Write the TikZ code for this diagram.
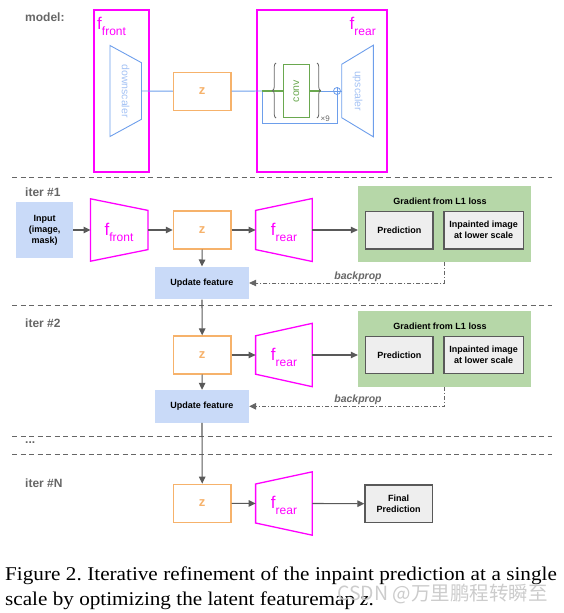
\documentclass[tikz,border=0pt]{standalone}
\usepackage{fontspec}
\setmainfont{Liberation Sans}
\newfontfamily\capfont{Liberation Serif}
\newfontfamily\cjkfont{Noto Sans CJK SC}
\usetikzlibrary{arrows.meta,decorations.pathreplacing}

\definecolor{magentaf}{HTML}{FF00FF}
\definecolor{netblue}{HTML}{6D9EEB}
\definecolor{lightblue}{HTML}{A4C2F4}
\definecolor{zorange}{HTML}{F6B26B}
\definecolor{convgreen}{HTML}{6AA84F}
\definecolor{gradgreen}{HTML}{B6D7A8}
\definecolor{boxblue}{HTML}{C9DAF8}
\definecolor{boxgray}{HTML}{EEEEEE}
\definecolor{darkgray}{HTML}{595959}
\definecolor{labelgray}{HTML}{666666}

% f with a subscript, as in the figure
\newcommand{\fsub}[1]{{\fontsize{17}{17}\selectfont f}\raisebox{-6pt}{\fontsize{12}{12}\selectfont #1}}
% trapezium: [style]{name}{left x}{right x}{centre y}{left half height}{right half height}
\newcommand{\trapez}[7][]{%
  \draw[#1] (#3,#5-#6) -- (#4,#5-#7) -- (#4,#5+#7) -- (#3,#5+#6) -- cycle;
  \coordinate (#2-w) at (#3,#5);
  \coordinate (#2-e) at (#4,#5);}

\tikzset{
  secline/.style={draw=labelgray, line width=0.9pt, dash pattern=on 5pt off 3.5pt},
  iterlbl/.style={anchor=west, inner sep=0pt, text=labelgray, font=\fontsize{12}{14}\selectfont\bfseries},
  modelbox/.style={draw=magentaf, line width=2.4pt, minimum width=55pt, minimum height=162pt},
  ftrap/.style={draw=magentaf, line width=1.3pt},
  nettrap/.style={draw=netblue, line width=0.9pt},
  netline/.style={draw=netblue, line width=0.9pt},
  convline/.style={draw=convgreen, line width=1.1pt},
  flbl/.style={text=magentaf, inner sep=0pt},
  zbox/.style={draw=zorange, line width=1.2pt, minimum width=57.7pt, minimum height=38pt, text=zorange, font=\fontsize{13}{15}\selectfont\bfseries},
  feedbox/.style={fill=boxblue, inner sep=0pt, align=center, font=\fontsize{9}{11}\selectfont\bfseries},
  predbox/.style={draw=darkgray, line width=1.2pt, fill=boxgray, minimum height=37.5pt, inner sep=0pt, align=center, font=\fontsize{9}{11}\selectfont\bfseries},
  gradbox/.style={fill=gradgreen, minimum width=172.7pt, minimum height=75.7pt, inner sep=0pt},
  gradlbl/.style={inner sep=0pt, font=\fontsize{9}{11}\selectfont\bfseries},
  arr/.style={draw=darkgray, line width=1.1pt, -{Triangle[length=7pt,width=6.5pt]}},
  backarr/.style={draw=labelgray, line width=0.9pt, dash pattern=on 4pt off 2pt on 1pt off 2pt, -{Triangle[length=7pt,width=6.5pt]}},
  bplbl/.style={inner sep=0pt, text=labelgray, font=\fontsize{10.5}{12}\selectfont\bfseries\itshape},
  captext/.style={anchor=base west, inner sep=0pt, font=\capfont\fontsize{19.5}{23}\selectfont},
}

\begin{document}
\begin{tikzpicture}[x=1pt,y=-1pt]
\useasboundingbox (0,0) rectangle (563,613);

% model
\node[iterlbl] (modellbl) at (25,17) {model:};
\node[modelbox] (mfront) at (121.5,91) {};
\node[modelbox, minimum width=130pt] (mrear) at (322,91) {};
\node[flbl, anchor=north west] (mfrontlbl) at (97,16.5) {\fsub{front}};
\node[flbl, anchor=north east] (mrearlbl) at (376,16.5) {\fsub{rear}};
\trapez[nettrap]{dsc}{110}{141.5}{91}{45.5}{28.3}
\node[rotate=-90, text=lightblue, font=\fontsize{10.5}{12}\selectfont] (dsclbl) at (125.7,91) {downscaler};
\node[zbox] (zm) at (202.2,91.2) {z};
\trapez[nettrap]{usc}{341.7}{373.3}{91}{26.7}{45.8}
\node[rotate=-90, text=lightblue, font=\fontsize{10.5}{12}\selectfont] (usclbl) at (357.5,91) {upscaler};
\node[draw=convgreen, line width=1pt, minimum width=26pt, minimum height=53.4pt] (conv) at (296.4,91) {};
\node[rotate=90, text=convgreen, font=\fontsize{10.5}{12}\selectfont] (convlbl) at (conv) {conv};
\node[draw=netblue, circle, inner sep=0pt, minimum size=7pt, line width=0.8pt] (oplus) at (337,91) {};
\draw[netblue, line width=0.8pt] (oplus.north) -- (oplus.south) (oplus.west) -- (oplus.east);
\coordinate (skipa) at (262,91);
\coordinate (skipb) at (337,123);
\coordinate (bracer) at (320.5,91);
\draw[netline] (dsc-e) -- (zm.west);
\draw[netline] (zm.east) -- (skipa);
\draw[netline] (skipa) |- (skipb) -- (oplus.south);
\draw[convline] (skipa) -- (conv.west);
\draw[convline] (conv.east) -- (bracer);
\draw[netline] (bracer) -- (oplus.west);
\draw[netline] (oplus.east) -- (usc-w);
\draw[labelgray, line width=0.8pt, decorate, decoration={brace, amplitude=3.5pt}] (276,118) -- (276,63);
\draw[labelgray, line width=0.8pt, decorate, decoration={brace, amplitude=3.5pt}] (317,63) -- (317,118);
\node[anchor=west, inner sep=0pt, text=labelgray, font=\fontsize{8}{9}\selectfont] (reps) at (320.5,119) {×9};

% separators
\draw[secline] (12,177) -- (552,177);
\draw[secline] (12,305) -- (552,305);
\draw[secline] (12,436) -- (552,436);
\draw[secline] (12,454) -- (552,454);

% iter 1
\node[iterlbl] (it1) at (25,192) {iter \#1};
\node[feedbox, minimum width=57pt, minimum height=55.5pt] (inp1) at (44.6,230) {Input\\(image,\\mask)};
\trapez[ftrap]{ff1}{90.5}{148}{230}{31.2}{19.6}
\node[flbl] (ff1lbl) at (119,232) {\fsub{front}};
\node[zbox] (z1) at (202.2,230) {z};
\trapez[ftrap]{fr1}{255.6}{312.3}{230}{19.6}{31.5}
\node[flbl] (fr1lbl) at (284,232) {\fsub{rear}};
\node[gradbox] (grad1) at (444.4,223.9) {};
\node[gradlbl] (gt1) at (440,201) {Gradient from L1 loss};
\node[predbox, minimum width=67.3pt] (pred1) at (399.3,230.2) {Prediction};
\node[predbox, minimum width=79.5pt] (low1) at (483.7,230.2) {Inpainted image\\at lower scale};
\node[feedbox, minimum width=93.8pt, minimum height=32.6pt] (upd1) at (202,283) {Update feature};
\draw[arr] (inp1.east) -- (ff1-w);
\draw[arr] (ff1-e) -- (z1.west);
\draw[arr] (z1.east) -- (fr1-w);
\draw[arr] (fr1-e) -- (fr1-e -| grad1.west);
\draw[arr] (z1.south) -- (upd1.north);
\draw[backarr] (grad1.south) |- (upd1.east);
\node[bplbl] (bp1) at (358,277) {backprop};

% iter 2
\node[iterlbl] (it2) at (25,323) {iter \#2};
\node[zbox] (z2) at (202.2,355) {z};
\trapez[ftrap]{fr2}{255.6}{312.3}{355}{19.2}{31.7}
\node[flbl] (fr2lbl) at (284,357) {\fsub{rear}};
\node[gradbox] (grad2) at (444.4,348.9) {};
\node[gradlbl] (gt2) at (440,326) {Gradient from L1 loss};
\node[predbox, minimum width=67.3pt] (pred2) at (399.3,355) {Prediction};
\node[predbox, minimum width=79.5pt] (low2) at (483.7,355) {Inpainted image\\at lower scale};
\node[feedbox, minimum width=93.8pt, minimum height=32.6pt] (upd2) at (202,406.3) {Update feature};
\draw[arr] (upd1.south) -- (z2.north);
\draw[arr] (z2.east) -- (fr2-w);
\draw[arr] (fr2-e) -- (fr2-e -| grad2.west);
\draw[arr] (z2.south) -- (upd2.north);
\draw[backarr] (grad2.south) |- (upd2.east);
\node[bplbl] (bp2) at (358,400) {backprop};

% iter N
\node[iterlbl] (dots) at (25,443) {...};
\node[iterlbl] (itn) at (25,483) {iter \#N};
\node[zbox] (zn) at (202.2,503.3) {z};
\trapez[ftrap]{frn}{255.6}{312.3}{503.5}{19.5}{31.7}
\node[flbl] (frnlbl) at (284,505) {\fsub{rear}};
\node[predbox, minimum width=67.5pt, minimum height=37.3pt] (final) at (398.7,503.7) {Final\\Prediction};
\draw[arr] (upd2.south) -- (zn.north);
\draw[arr] (zn.east) -- (frn-w);
\draw[arr] (frn-e) -- (final.west);

% caption
\node[captext] (capa) at (5,580) {\scalebox{1.086}[1]{\makebox[508pt][s]{Figure 2.\ Iterative refinement of the inpaint prediction at a single}}};
\node[captext] (capb) at (5,605) {\scalebox{1.086}[1]{scale by optimizing the latent featuremap \textit{z}.}};
\node[anchor=base west, inner sep=0pt, text=gray!45, opacity=0.9, font=\cjkfont\fontsize{19.5}{22}\selectfont] (wmark) at (337,600) {CSDN @万里鹏程转瞬至};
\end{tikzpicture}
\end{document}
